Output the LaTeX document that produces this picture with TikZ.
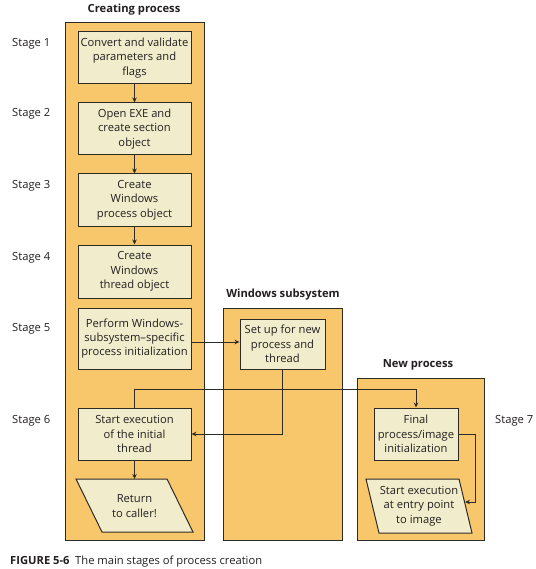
\documentclass[tikz,border=0pt]{standalone}
\usepackage{fontspec}
\setmainfont{Open Sans}
\usetikzlibrary{arrows.meta}
\definecolor{orangefill}{HTML}{F9C76B}
\definecolor{beige}{HTML}{F1EDCC}
\definecolor{edge}{HTML}{2E2A25}
\definecolor{txt}{HTML}{231F20}
\tikzset{
  x=1pt,y=-1pt,
  every node/.style={text=txt,font=\fontsize{11.2}{14.4}\selectfont},
  panel/.style={draw=edge,fill=orangefill,line width=1pt},
  stepbox/.style={draw=edge,fill=beige,line width=1pt,inner sep=0pt,align=center},
  para/.style={draw=edge,fill=beige,line width=1pt},
  ptext/.style={inner sep=0pt,align=center},
  title/.style={font=\fontsize{11.2}{13}\selectfont\bfseries},
  stagelbl/.style={anchor=west,inner sep=0pt},
  arr/.style={draw=edge,line width=1pt,-{Stealth[length=5pt,width=4.5pt]}},
}
\begin{document}
\begin{tikzpicture}
\useasboundingbox (0,0) rectangle (535,569);
% panels
\draw[panel] (65,23) rectangle (204,540);
\draw[panel] (223,308) rectangle (342,540);
\draw[panel] (357,378) rectangle (484,540);
% titles
\node[title] (t1) at (134,10) {Creating process};
\node[title] (t2) at (283,295) {Windows subsystem};
\node[title] (t3) at (418,365) {New process};
% stage labels
\node[stagelbl] (s1) at (12,44) {Stage 1};
\node[stagelbl] (s2) at (12,114) {Stage 2};
\node[stagelbl] (s3) at (12,186) {Stage 3};
\node[stagelbl] (s4) at (12,258) {Stage 4};
\node[stagelbl] (s5) at (12,329) {Stage 5};
\node[stagelbl] (s6) at (12,421) {Stage 6};
\node[stagelbl] (s7) at (495,421) {Stage 7};
% step boxes
\node[stepbox,minimum width=113pt,minimum height=52pt] (b1) at (134.5,58) {Convert and validate\\parameters and\\flags};
\node[stepbox,minimum width=113pt,minimum height=52pt] (b2) at (134.5,129) {Open EXE and\\create section\\object};
\node[stepbox,minimum width=113pt,minimum height=52pt] (b3) at (134.5,200) {Create\\Windows\\process object};
\node[stepbox,minimum width=113pt,minimum height=53pt] (b4) at (134.5,271.5) {Create\\Windows\\thread object};
\node[stepbox,minimum width=113pt,minimum height=61pt] (b5) at (134.5,338.5) {Perform Windows-\\subsystem–specific\\process initialization};
\node[stepbox,minimum width=113pt,minimum height=52pt] (b6) at (134.5,434) {Start execution\\of the initial\\thread};
\node[stepbox,minimum width=85pt,minimum height=50pt] (su) at (282.5,344) {Set up for new\\process and\\thread};
\node[stepbox,minimum width=84pt,minimum height=52pt] (fin) at (416,434) {Final\\process/image\\initialization};
% parallelograms
\coordinate (p1tl) at (76,479);
\coordinate (p1tr) at (167,479);
\coordinate (p1br) at (193,532);
\coordinate (p1bl) at (102,532);
\draw[para] (p1tl) -- (p1tr) -- (p1br) -- (p1bl) -- cycle;
\coordinate (p1n) at (134.5,479);
\node[ptext] (r1) at (134.5,506) {Return\\to caller!};
\coordinate (p2tl) at (366,479);
\coordinate (p2tr) at (459,479);
\coordinate (p2br) at (472,533);
\coordinate (p2bl) at (379,533);
\draw[para] (p2tl) -- (p2tr) -- (p2br) -- (p2bl) -- cycle;
\coordinate (p2e) at (465,502);
\node[ptext] (r2) at (419,506) {Start execution\\at entry point\\to image};
% connectors
\draw[arr] (b1) -- (b2);
\draw[arr] (b2) -- (b3);
\draw[arr] (b3) -- (b4);
\draw[arr] (b6) -- (p1n);
\coordinate (a5) at (191,342);
\draw[arr] (b5.east |- a5) -- (su.west |- a5);
\draw[arr] (su.south) |- (b6.east);
\coordinate (ovr) at (0,389);
\draw[arr] (b6.north) -- (b6.north |- ovr) -| (fin.north);
\coordinate (rgt) at (475,502);
\draw[arr] (fin.east) -| (rgt) -- (p2e);
% caption
\node[anchor=west,inner sep=0pt] (cap) at (10,562) {\textbf{FIGURE 5-6}\enspace The main stages of process creation};
\end{tikzpicture}
\end{document}
